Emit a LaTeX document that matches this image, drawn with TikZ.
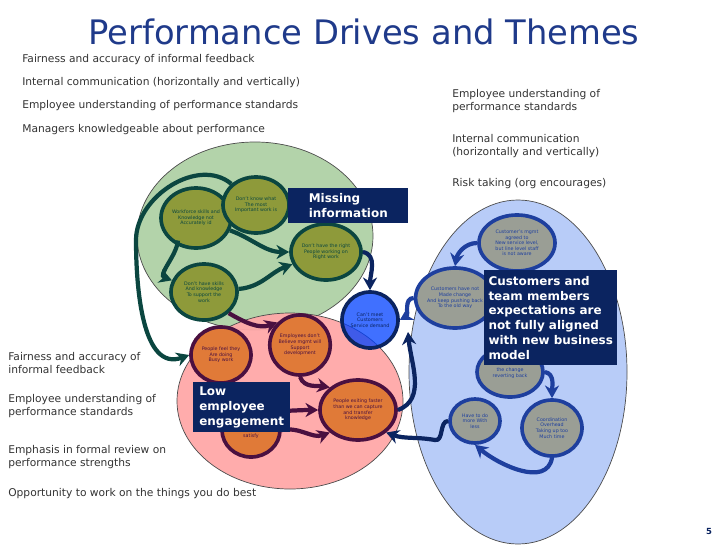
\documentclass[tikz,border=0pt]{standalone}
\usepackage{fontspec}
\setmainfont{DejaVu Sans}
\usetikzlibrary{arrows.meta,shapes.geometric}
\definecolor{navy}{HTML}{0B2460}
\definecolor{titleblue}{HTML}{1F3A8A}
\definecolor{greenbg}{HTML}{B3D3AA}
\definecolor{pinkbg}{HTML}{FFA8A8}
\definecolor{bluebg}{HTML}{B8CCF8}
\definecolor{olive}{HTML}{8E9A3A}
\definecolor{teal}{HTML}{0B4640}
\definecolor{plum}{HTML}{4A1040}
\definecolor{orange}{HTML}{E07A38}
\definecolor{greyfill}{HTML}{9A9E95}
\definecolor{bluering}{HTML}{1E3F9E}
\definecolor{textgrey}{HTML}{333333}

\begin{document}
\begin{tikzpicture}[
  x=0.025cm, y=-0.025cm,
  bigarea/.style={draw=black!70, line width=.5pt},
  bubble/.style={ellipse, draw, line width=2.6pt, inner sep=0pt, align=center,
    font=\fontsize{3.4}{4}\selectfont},
  greenbub/.style={bubble, draw=teal, fill=olive, text=teal},
  pinkbub/.style={bubble, draw=plum, fill=orange, text=plum},
  bluebub/.style={bubble, draw=bluering, fill=greyfill, text=bluering},
  theme/.style={fill=navy, text=white, font=\bfseries\fontsize{8.5}{10.5}\selectfont,
    align=left, anchor=north west, inner sep=3pt},
  flow/.style={line width=3pt, -{Stealth[length=9pt,width=10pt]}},
  note/.style={anchor=west, text=textgrey, font=\fontsize{7.6}{9.4}\selectfont, align=left, inner sep=0pt}
]
  \useasboundingbox (0,0) rectangle (728,546);

  % Title
  \node[text=titleblue, font=\fontsize{24}{28}\selectfont] (title) at (364,32) {Performance Drives and Themes};

  % Notes
  \node[note] (n1) at (22,60) {Fairness and accuracy of informal feedback};
  \node[note] (n2) at (22,83) {Internal communication (horizontally and vertically)};
  \node[note] (n3) at (22,106) {Employee understanding of performance standards};
  \node[note] (n4) at (22,130) {Managers knowledgeable about performance};
  \node[note] (r1) at (452,101) {Employee understanding of\\performance standards};
  \node[note] (r2) at (452,146) {Internal communication\\(horizontally and vertically)};
  \node[note] (r3) at (452,184) {Risk taking (org encourages)};
  \node[note] (l1) at (8,363) {Fairness and accuracy of\\informal feedback};
  \node[note] (l2) at (8,406) {Employee understanding of\\performance standards};
  \node[note] (l3) at (8,457) {Emphasis in formal review on\\performance strengths};
  \node[note] (l4) at (8,494) {Opportunity to work on the things you do best};
  \node[font=\bfseries\fontsize{6}{7}\selectfont, text=navy] (page) at (709,531) {5};

  % Areas
  \draw[bigarea, fill=greenbg] (255,236) ellipse [x radius=118, y radius=94];
  \draw[bigarea, fill=pinkbg, fill opacity=.95] (290,401) ellipse [x radius=113, y radius=88];
  \draw[bigarea, fill=bluebg] (518,372) ellipse [x radius=109, y radius=172];

  % Green bubbles
  \node[greenbub, minimum width=1.75cm, minimum height=1.5cm] (skills id) at (196,218) {Workforce skills and\\Knowledge not\\Accurately id};
  \node[greenbub, minimum width=1.65cm, minimum height=1.4cm] (work) at (256,205) {Don't know what\\The most\\Important work is};
  \node[greenbub, minimum width=1.75cm, minimum height=1.4cm] (people) at (326,252) {Don't have the right\\People working on\\Right work};
  \node[greenbub, minimum width=1.65cm, minimum height=1.4cm] (support) at (204,292) {Don't have skills\\And knowledge\\To support the\\work};

  % Pink bubbles
  \node[pinkbub, minimum width=1.5cm, minimum height=1.4cm] (busy) at (221,355) {People feel they\\Are doing\\Busy work};
  \node[pinkbub, minimum width=1.5cm, minimum height=1.5cm] (believe) at (300,345) {Employees don't\\Believe mgmt will\\Support\\development};
  \node[pinkbub, minimum width=1.9cm, minimum height=1.5cm] (exiting) at (358,410) {People exiting faster\\than we can capture\\and transfer\\knowledge};
  \node[pinkbub, minimum width=1.45cm, minimum height=1.35cm] (satisfy) at (251,430) {\mbox{}\\\mbox{}\\\mbox{}\\satisfy};

  % Customer bubble
  \node[bubble, draw=navy, fill=blue!75!cyan, fill opacity=.75, text=navy, text opacity=1,
    minimum width=1.4cm, minimum height=1.4cm] (demand) at (370,320) {Can't meet\\Customers\\Service demand};

  % Blue bubbles
  \node[bluebub, minimum width=1.9cm, minimum height=1.4cm] (mgmt) at (517,243) {Customer's mgmt\\agreed to\\New service level,\\but line level staff\\is not aware};
  \node[bluebub, minimum width=1.85cm, minimum height=1.5cm] (pushback) at (455,298) {Customers have not\\Made change\\And keep pushing back\\To the old way};
  \node[bluebub, minimum width=1.65cm, minimum height=1.25cm] (revert) at (510,372) {\mbox{}\\the change\\reverting back};
  \node[bluebub, minimum width=1.25cm, minimum height=1.1cm] (less) at (475,421) {Have to do\\more With\\less};
  \node[bluebub, minimum width=1.5cm, minimum height=1.4cm] (overhead) at (552,428) {Coordination\\Overhead\\Taking up too\\Much time};

  % Green flows
  \draw[flow, teal] (skills id) to[out=-20, in=180] (people);
  \draw[flow, teal] (skills id.south west) ++(8,0) to[out=-95, in=160] (support);
  \draw[flow, teal] (support) to[out=5, in=200] (people);
  \draw[flow, teal] (work.north west) to[out=140, in=90] (136,240) to[out=-90, in=200] (busy.west);
  \draw[flow, navy] (people.east) to[out=-10, in=90] (demand.north);
  \draw[flow, teal] (people.north) ++(0,-5) -- ++(0,-12);

  % Pink flows
  \draw[flow, plum] (support.south east) to[out=-30, in=200] (believe.north west);
  \draw[flow, plum] (believe.south) to[out=-70, in=170] (exiting.north west);
  \draw[flow, plum] (busy.south) to[out=-60, in=180] (exiting.west);
  \draw[flow, plum] (satisfy.east) to[out=10, in=200] (exiting.south west);

  % Blue flows
  \draw[flow, navy] (exiting.east) to[out=20, in=-85] (408,332);
  \draw[flow, bluering] (pushback.west) to[out=180, in=30] (demand.east);
  \draw[flow, bluering] (mgmt.west) to[out=180, in=80] (pushback.north);
  \draw[flow, bluering] (revert.east) to[out=-10, in=90] (overhead.north);
  \draw[flow, bluering] (overhead.south) to[out=-100, in=-40] (less.south);
  \draw[flow, navy] (less.west) to[out=180, in=-10] (435,440) to[out=170, in=-20] (exiting.south east);

  % Theme labels
  \node[theme, minimum width=3cm, minimum height=.875cm] (missing) at (288,188) {Missing\\information};
  \node[theme, minimum width=2.42cm, minimum height=1.25cm] (engagement) at (193,382) {Low\\employee\\engagement};
  \node[theme, minimum width=3.15cm, minimum height=2.37cm] (aligned) at (484,270) {Customers and\\team members\\expectations are\\not fully aligned\\with new business\\model};
\end{tikzpicture}
\end{document}
